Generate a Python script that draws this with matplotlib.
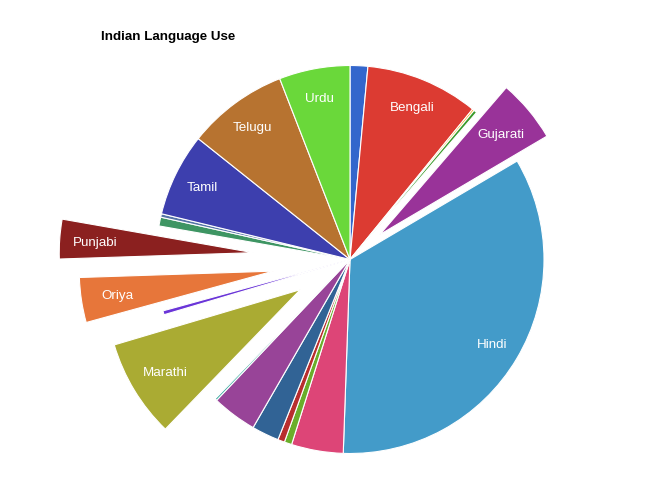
import math
import matplotlib
matplotlib.use("Agg")
from matplotlib import pyplot as plt

languages = ["Assamese", "Bengali", "Bodo", "Dogri", "Gujarati", "Hindi",
             "Kannada", "Kashmiri", "Konkani", "Maithili", "Malayalam",
             "Manipuri", "Marathi", "Nepali", "Oriya", "Punjabi", "Sanskrit",
             "Santhali", "Sindhi", "Tamil", "Telugu", "Urdu"]
speakers = [13, 83, 1.4, 2.3, 46, 300, 38, 5.5, 5, 20, 33, 1.5, 72, 2.9, 33,
            29, 0.01, 6.5, 2.5, 61, 74, 52]
offsets = [0, 0, 0, 0, 0.2, 0, 0, 0, 0, 0, 0, 0, 0.3, 0, 0.4, 0.5, 0, 0,
           0, 0, 0, 0]
shown_labels = ["Bengali", "Gujarati", "Hindi", "Marathi", "Oriya",
                "Punjabi", "Tamil", "Telugu", "Urdu"]
colors = ["#3366cc", "#dc3b32", "#ff9900", "#3a9a2a", "#993399", "#439bc9",
          "#dd4577", "#6aae2a", "#b82e2e", "#316395", "#984498", "#3aaaa0",
          "#aaab33", "#6a35d8", "#e7763a", "#8b201f", "#651067", "#3e9563",
          "#5574a6", "#3d3fae", "#b77330", "#6ad83a"]

W, H = 649, 490
cx, cy, R = 350, 259.5, 194   # pie centre and radius in pixels

fig = plt.figure(figsize=(W / 100, H / 100), dpi=100)
ax = fig.add_axes([0, 0, 1, 1])

wedges, _ = ax.pie(speakers, colors=colors, explode=offsets, startangle=90,
                   counterclock=False, radius=1,
                   wedgeprops=dict(edgecolor="white", linewidth=0.8))

ax.set_aspect("auto")
ax.set_xlim(-cx / R, (W - cx) / R)
ax.set_ylim(-(H - cy) / R, cy / R)
ax.axis("off")

for w, name, off in zip(wedges, languages, offsets):
    if name not in shown_labels:
        continue
    mid = math.radians((w.theta1 + w.theta2) / 2)
    x0, y0 = w.center
    d = 0.815 if off else 0.85
    ax.text(x0 + d * math.cos(mid), y0 + d * math.sin(mid), name,
            color="white", fontsize=9.6, family="Liberation Sans",
            ha="center", va="center_baseline")

fig.text(101 / W, 1 - 37 / H, "Indian Language Use", fontsize=9.6,
         fontweight="bold", family="Liberation Sans", ha="left", va="center")

fig.savefig("out.png", dpi=100)
